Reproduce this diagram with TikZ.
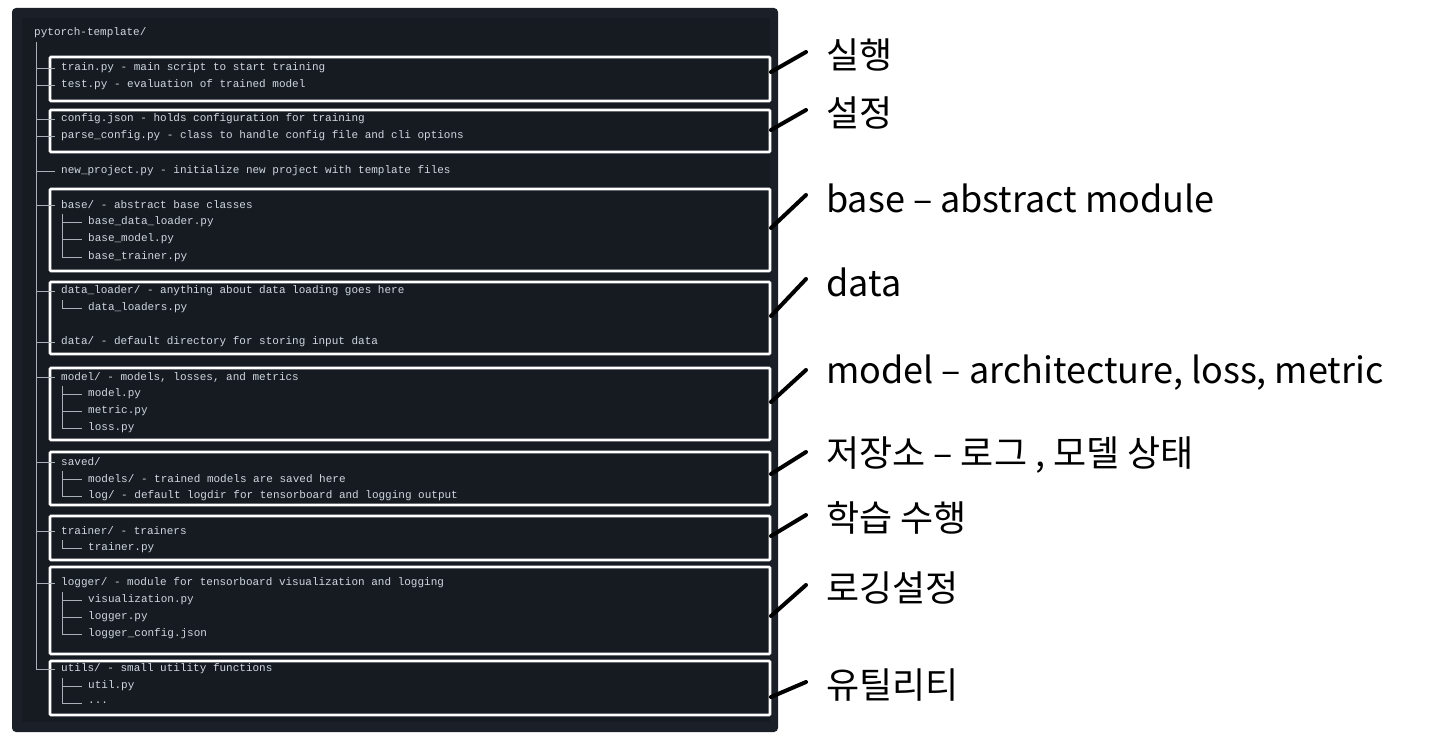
\documentclass[tikz,border=0pt]{standalone}
\usepackage{fontspec}
\setmonofont{Liberation Mono}
\newfontfamily\kr{Noto Sans CJK KR}
\definecolor{panel}{HTML}{1B2028}
\definecolor{inner}{HTML}{161B22}
\definecolor{txt}{HTML}{D0D7DE}
\definecolor{tree}{HTML}{A8B0B8}
\begin{document}
\begin{tikzpicture}[x=1pt,y=-1pt,
  t/.style={anchor=west,inner sep=0pt,text=txt,font=\ttfamily\fontsize{11}{12}\selectfont},
  lab/.style={anchor=west,inner sep=0pt,font=\kr\fontsize{36}{40}\selectfont},
  grp/.style={draw=white,line width=2.6pt,rounded corners=1pt},
  tl/.style={draw=tree,line width=0.9pt},
  con/.style={line width=4pt,line cap=round}]
\useasboundingbox (0,0) rectangle (1430,741);
\fill[white] (0,0) rectangle (1430,741);
\fill[panel,rounded corners=4pt] (12,8) rectangle (778,732);
\fill[inner] (22,18) rectangle (770,722);
% boxes
\foreach \a/\b/\n in {57/101/b1,110/152/b2,189/271/b3,282/354/b4,368/440/b5,452/505/b6,516/560/b7,567/654/b8,661/715/b9}
  \draw[grp] (50,\a) rectangle (770,\b) coordinate (\n);
% tree lines
\draw[tl] (36,42) -- (36,669);
\foreach \y in {68,85,119,136,171,205,291,342,377,462,531,583}
  \draw[tl] (36,\y) -- (55,\y);
\draw[tl] (36,669) -- (55,669);
\foreach \s/\e in {214/257,300/308,386/428,471/496,540/548,592/634,678/703}
  \draw[tl] (62,\s) -- (62,\e);
\foreach \y in {222,239,257,308,394,411,428,479,496,548,600,617,634,686,703}
  \draw[tl] (62,\y) -- (82,\y);
% texts
\node[t] (root) at (34,33) {pytorch-template/};
\node[t] at (61,68) {train.py - main script to start training};
\node[t] at (61,85) {test.py - evaluation of trained model};
\node[t] at (61,119) {config.json - holds configuration for training};
\node[t] at (61,136) {parse\_config.py - class to handle config file and cli options};
\node[t] at (61,171) {new\_project.py - initialize new project with template files};
\node[t] at (61,205) {base/ - abstract base classes};
\node[t] at (88,222) {base\_data\_loader.py};
\node[t] at (88,239) {base\_model.py};
\node[t] at (88,257) {base\_trainer.py};
\node[t] at (61,291) {data\_loader/ - anything about data loading goes here};
\node[t] at (88,308) {data\_loaders.py};
\node[t] at (61,342) {data/ - default directory for storing input data};
\node[t] at (61,377) {model/ - models, losses, and metrics};
\node[t] at (88,394) {model.py};
\node[t] at (88,411) {metric.py};
\node[t] at (88,428) {loss.py};
\node[t] at (61,462) {saved/};
\node[t] at (88,479) {models/ - trained models are saved here};
\node[t] at (88,496) {log/ - default logdir for tensorboard and logging output};
\node[t] at (61,531) {trainer/ - trainers};
\node[t] at (88,548) {trainer.py};
\node[t] at (61,583) {logger/ - module for tensorboard visualization and logging};
\node[t] at (88,600) {visualization.py};
\node[t] at (88,617) {logger.py};
\node[t] at (88,634) {logger\_config.json};
\node[t] at (61,669) {utils/ - small utility functions};
\node[t] at (88,686) {util.py};
\node[t] at (88,703) {...};
% labels
\foreach \y/\txt/\n/\sy in {55/{실행}/l1/72,113/{설정}/l2/130,198/{base – abstract module}/l3/228,282/{data}/l4/316,373/{model – architecture, loss, metric}/l5/402,455/{저장소 – 로그 , 모델 상태}/l6/474,518/{학습 수행}/l7/536,588/{로깅설정}/l8/616,685/{유틸리티}/l9/697}{
  \node[lab] (\n) at (826,\y) {\txt};
  \coordinate (s\n) at (771,\sy);
  \draw[con] (s\n) -- ([xshift=-20pt,yshift=3pt]\n.west);
}
\end{tikzpicture}
\end{document}
